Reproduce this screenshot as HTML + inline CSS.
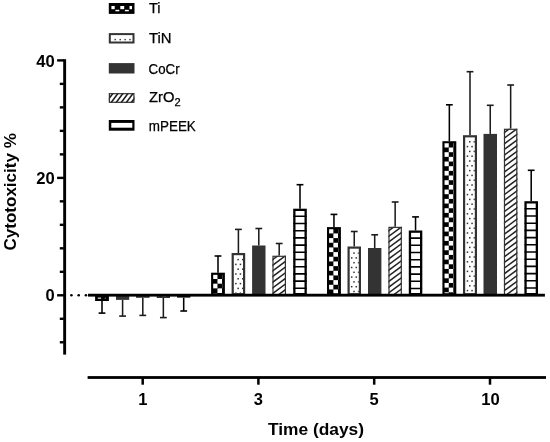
<!DOCTYPE html>
<html lang="en"><head><meta charset="utf-8"><title>Cytotoxicity chart</title>
<style>html,body{margin:0;padding:0;background:#fff}svg{display:block}</style></head>
<body>
<svg width="550" height="442" viewBox="0 0 550 442">
<rect width="550" height="442" fill="#fff"/>
<line x1="102.00" y1="301.00" x2="102.00" y2="313.10" stroke="#000" stroke-width="1.55"/>
<line x1="98.60" y1="313.10" x2="105.40" y2="313.10" stroke="#000" stroke-width="1.6"/>
<clipPath id="c1"><rect x="95.10" y="295.30" width="13.80" height="5.70"/></clipPath>
<rect x="95.10" y="295.30" width="13.80" height="5.70" fill="#000"/>
<rect x="97.80" y="297.60" width="3.3" height="1.1" fill="#fff"/>
<rect x="104.70" y="297.70" width="1.2" height="0.9" fill="#999"/>
<line x1="122.60" y1="299.90" x2="122.60" y2="316.10" stroke="#1c1c1c" stroke-width="1.55"/>
<line x1="119.20" y1="316.10" x2="126.00" y2="316.10" stroke="#1c1c1c" stroke-width="1.6"/>
<clipPath id="c2"><rect x="116.00" y="295.30" width="13.20" height="4.60"/></clipPath>
<rect x="116.00" y="295.30" width="13.20" height="4.60" fill="#333"/>
<line x1="142.80" y1="297.80" x2="142.80" y2="315.40" stroke="#1c1c1c" stroke-width="1.55"/>
<line x1="139.40" y1="315.40" x2="146.20" y2="315.40" stroke="#1c1c1c" stroke-width="1.6"/>
<clipPath id="c3"><rect x="136.00" y="295.30" width="13.60" height="2.50"/></clipPath>
<rect x="136.00" y="295.30" width="13.60" height="2.50" fill="#333"/>
<line x1="163.35" y1="298.00" x2="163.35" y2="317.60" stroke="#1c1c1c" stroke-width="1.55"/>
<line x1="159.95" y1="317.60" x2="166.75" y2="317.60" stroke="#1c1c1c" stroke-width="1.6"/>
<clipPath id="c4"><rect x="156.70" y="295.30" width="13.30" height="2.70"/></clipPath>
<rect x="156.70" y="295.30" width="13.30" height="2.70" fill="#fff"/>
<g clip-path="url(#c4)" stroke="#222" stroke-width="1.5">
<line x1="155.70" y1="294.49" x2="171.00" y2="283.17"/>
<line x1="155.70" y1="300.14" x2="171.00" y2="288.82"/>
<line x1="155.70" y1="305.79" x2="171.00" y2="294.47"/>
<line x1="155.70" y1="311.44" x2="171.00" y2="300.12"/>
<line x1="155.70" y1="317.09" x2="171.00" y2="305.77"/>
</g>
<rect x="157.30" y="295.90" width="12.10" height="1.50" fill="none" stroke="#333" stroke-width="1.2"/>
<line x1="183.70" y1="297.60" x2="183.70" y2="311.00" stroke="#000" stroke-width="1.55"/>
<line x1="180.30" y1="311.00" x2="187.10" y2="311.00" stroke="#000" stroke-width="1.6"/>
<clipPath id="c5"><rect x="177.00" y="295.30" width="13.40" height="2.30"/></clipPath>
<rect x="177.00" y="295.30" width="13.40" height="2.30" fill="#000"/>
<line x1="218.00" y1="272.70" x2="218.00" y2="256.00" stroke="#000" stroke-width="1.55"/>
<line x1="214.60" y1="256.00" x2="221.40" y2="256.00" stroke="#000" stroke-width="1.6"/>
<clipPath id="c6"><rect x="211.10" y="272.70" width="13.80" height="22.60"/></clipPath>
<rect x="211.10" y="272.70" width="13.80" height="22.60" fill="#000"/>
<clipPath id="k6"><rect x="213.20" y="274.80" width="9.05" height="18.40"/></clipPath>
<g clip-path="url(#k6)" fill="#fff">
<rect x="212.80" y="274.35" width="4.67" height="4.67"/>
<rect x="222.14" y="274.35" width="4.67" height="4.67"/>
<rect x="217.47" y="279.02" width="4.67" height="4.67"/>
<rect x="212.80" y="283.69" width="4.67" height="4.67"/>
<rect x="222.14" y="283.69" width="4.67" height="4.67"/>
<rect x="217.47" y="288.36" width="4.67" height="4.67"/>
<rect x="212.80" y="293.03" width="4.67" height="4.67"/>
<rect x="222.14" y="293.03" width="4.67" height="4.67"/>
</g>
<line x1="238.40" y1="253.00" x2="238.40" y2="229.40" stroke="#1c1c1c" stroke-width="1.55"/>
<line x1="235.00" y1="229.40" x2="241.80" y2="229.40" stroke="#1c1c1c" stroke-width="1.6"/>
<clipPath id="c7"><rect x="231.60" y="253.00" width="13.60" height="42.30"/></clipPath>
<rect x="231.60" y="253.00" width="13.60" height="42.30" fill="#333"/>
<rect x="233.80" y="255.20" width="9.20" height="37.90" fill="#fff"/>
<clipPath id="k7"><rect x="233.80" y="255.20" width="9.20" height="37.90"/></clipPath>
<g clip-path="url(#k7)" fill="#333">
<rect x="237.40" y="258.85" width="1.5" height="1.5"/>
<rect x="242.00" y="258.85" width="1.5" height="1.5"/>
<rect x="235.10" y="263.65" width="1.5" height="1.5"/>
<rect x="239.70" y="263.65" width="1.5" height="1.5"/>
<rect x="237.40" y="268.45" width="1.5" height="1.5"/>
<rect x="242.00" y="268.45" width="1.5" height="1.5"/>
<rect x="235.10" y="273.25" width="1.5" height="1.5"/>
<rect x="239.70" y="273.25" width="1.5" height="1.5"/>
<rect x="237.40" y="278.05" width="1.5" height="1.5"/>
<rect x="242.00" y="278.05" width="1.5" height="1.5"/>
<rect x="235.10" y="282.85" width="1.5" height="1.5"/>
<rect x="239.70" y="282.85" width="1.5" height="1.5"/>
<rect x="237.40" y="287.65" width="1.5" height="1.5"/>
<rect x="242.00" y="287.65" width="1.5" height="1.5"/>
<rect x="235.10" y="292.45" width="1.5" height="1.5"/>
<rect x="239.70" y="292.45" width="1.5" height="1.5"/>
</g>
<line x1="258.80" y1="245.50" x2="258.80" y2="228.50" stroke="#1c1c1c" stroke-width="1.55"/>
<line x1="255.40" y1="228.50" x2="262.20" y2="228.50" stroke="#1c1c1c" stroke-width="1.6"/>
<clipPath id="c8"><rect x="252.10" y="245.50" width="13.40" height="49.80"/></clipPath>
<rect x="252.10" y="245.50" width="13.40" height="49.80" fill="#333"/>
<line x1="279.20" y1="255.70" x2="279.20" y2="243.50" stroke="#1c1c1c" stroke-width="1.55"/>
<line x1="275.80" y1="243.50" x2="282.60" y2="243.50" stroke="#1c1c1c" stroke-width="1.6"/>
<clipPath id="c9"><rect x="272.40" y="255.70" width="13.60" height="39.60"/></clipPath>
<rect x="272.40" y="255.70" width="13.60" height="39.60" fill="#fff"/>
<g clip-path="url(#c9)" stroke="#222" stroke-width="1.5">
<line x1="271.40" y1="254.89" x2="287.00" y2="243.35"/>
<line x1="271.40" y1="260.54" x2="287.00" y2="249.00"/>
<line x1="271.40" y1="266.19" x2="287.00" y2="254.65"/>
<line x1="271.40" y1="271.84" x2="287.00" y2="260.30"/>
<line x1="271.40" y1="277.49" x2="287.00" y2="265.95"/>
<line x1="271.40" y1="283.14" x2="287.00" y2="271.60"/>
<line x1="271.40" y1="288.79" x2="287.00" y2="277.25"/>
<line x1="271.40" y1="294.44" x2="287.00" y2="282.90"/>
<line x1="271.40" y1="300.09" x2="287.00" y2="288.55"/>
<line x1="271.40" y1="305.74" x2="287.00" y2="294.20"/>
<line x1="271.40" y1="311.39" x2="287.00" y2="299.85"/>
</g>
<rect x="273.00" y="256.30" width="12.40" height="38.40" fill="none" stroke="#333" stroke-width="1.2"/>
<line x1="300.00" y1="208.70" x2="300.00" y2="184.70" stroke="#000" stroke-width="1.55"/>
<line x1="296.60" y1="184.70" x2="303.40" y2="184.70" stroke="#000" stroke-width="1.6"/>
<clipPath id="c10"><rect x="293.20" y="208.70" width="13.60" height="86.60"/></clipPath>
<rect x="293.20" y="208.70" width="13.60" height="86.60" fill="#000"/>
<rect x="295.50" y="211.00" width="9.00" height="82.00" fill="#fff"/>
<g clip-path="url(#c10)" stroke="#000" stroke-width="1.6">
<line x1="293.20" y1="216.30" x2="306.80" y2="216.30"/>
<line x1="293.20" y1="223.50" x2="306.80" y2="223.50"/>
<line x1="293.20" y1="230.70" x2="306.80" y2="230.70"/>
<line x1="293.20" y1="237.90" x2="306.80" y2="237.90"/>
<line x1="293.20" y1="245.10" x2="306.80" y2="245.10"/>
<line x1="293.20" y1="252.30" x2="306.80" y2="252.30"/>
<line x1="293.20" y1="259.50" x2="306.80" y2="259.50"/>
<line x1="293.20" y1="266.70" x2="306.80" y2="266.70"/>
<line x1="293.20" y1="273.90" x2="306.80" y2="273.90"/>
<line x1="293.20" y1="281.10" x2="306.80" y2="281.10"/>
<line x1="293.20" y1="288.30" x2="306.80" y2="288.30"/>
</g>
<line x1="333.95" y1="227.10" x2="333.95" y2="214.40" stroke="#000" stroke-width="1.55"/>
<line x1="330.55" y1="214.40" x2="337.35" y2="214.40" stroke="#000" stroke-width="1.6"/>
<clipPath id="c11"><rect x="327.00" y="227.10" width="13.90" height="68.20"/></clipPath>
<rect x="327.00" y="227.10" width="13.90" height="68.20" fill="#000"/>
<clipPath id="k11"><rect x="329.10" y="229.20" width="9.15" height="64.00"/></clipPath>
<g clip-path="url(#k11)" fill="#fff">
<rect x="328.70" y="228.75" width="4.67" height="4.67"/>
<rect x="338.04" y="228.75" width="4.67" height="4.67"/>
<rect x="333.37" y="233.42" width="4.67" height="4.67"/>
<rect x="328.70" y="238.09" width="4.67" height="4.67"/>
<rect x="338.04" y="238.09" width="4.67" height="4.67"/>
<rect x="333.37" y="242.76" width="4.67" height="4.67"/>
<rect x="328.70" y="247.43" width="4.67" height="4.67"/>
<rect x="338.04" y="247.43" width="4.67" height="4.67"/>
<rect x="333.37" y="252.10" width="4.67" height="4.67"/>
<rect x="328.70" y="256.77" width="4.67" height="4.67"/>
<rect x="338.04" y="256.77" width="4.67" height="4.67"/>
<rect x="333.37" y="261.44" width="4.67" height="4.67"/>
<rect x="328.70" y="266.11" width="4.67" height="4.67"/>
<rect x="338.04" y="266.11" width="4.67" height="4.67"/>
<rect x="333.37" y="270.78" width="4.67" height="4.67"/>
<rect x="328.70" y="275.45" width="4.67" height="4.67"/>
<rect x="338.04" y="275.45" width="4.67" height="4.67"/>
<rect x="333.37" y="280.12" width="4.67" height="4.67"/>
<rect x="328.70" y="284.79" width="4.67" height="4.67"/>
<rect x="338.04" y="284.79" width="4.67" height="4.67"/>
<rect x="333.37" y="289.46" width="4.67" height="4.67"/>
<rect x="328.70" y="294.13" width="4.67" height="4.67"/>
<rect x="338.04" y="294.13" width="4.67" height="4.67"/>
</g>
<line x1="354.25" y1="246.50" x2="354.25" y2="231.50" stroke="#1c1c1c" stroke-width="1.55"/>
<line x1="350.85" y1="231.50" x2="357.65" y2="231.50" stroke="#1c1c1c" stroke-width="1.6"/>
<clipPath id="c12"><rect x="347.50" y="246.50" width="13.50" height="48.80"/></clipPath>
<rect x="347.50" y="246.50" width="13.50" height="48.80" fill="#333"/>
<rect x="349.70" y="248.70" width="9.10" height="44.40" fill="#fff"/>
<clipPath id="k12"><rect x="349.70" y="248.70" width="9.10" height="44.40"/></clipPath>
<g clip-path="url(#k12)" fill="#333">
<rect x="353.25" y="252.35" width="1.5" height="1.5"/>
<rect x="357.85" y="252.35" width="1.5" height="1.5"/>
<rect x="350.95" y="257.15" width="1.5" height="1.5"/>
<rect x="355.55" y="257.15" width="1.5" height="1.5"/>
<rect x="353.25" y="261.95" width="1.5" height="1.5"/>
<rect x="357.85" y="261.95" width="1.5" height="1.5"/>
<rect x="350.95" y="266.75" width="1.5" height="1.5"/>
<rect x="355.55" y="266.75" width="1.5" height="1.5"/>
<rect x="353.25" y="271.55" width="1.5" height="1.5"/>
<rect x="357.85" y="271.55" width="1.5" height="1.5"/>
<rect x="350.95" y="276.35" width="1.5" height="1.5"/>
<rect x="355.55" y="276.35" width="1.5" height="1.5"/>
<rect x="353.25" y="281.15" width="1.5" height="1.5"/>
<rect x="357.85" y="281.15" width="1.5" height="1.5"/>
<rect x="350.95" y="285.95" width="1.5" height="1.5"/>
<rect x="355.55" y="285.95" width="1.5" height="1.5"/>
<rect x="353.25" y="290.75" width="1.5" height="1.5"/>
<rect x="357.85" y="290.75" width="1.5" height="1.5"/>
</g>
<line x1="374.70" y1="248.00" x2="374.70" y2="234.80" stroke="#1c1c1c" stroke-width="1.55"/>
<line x1="371.30" y1="234.80" x2="378.10" y2="234.80" stroke="#1c1c1c" stroke-width="1.6"/>
<clipPath id="c13"><rect x="368.00" y="248.00" width="13.40" height="47.30"/></clipPath>
<rect x="368.00" y="248.00" width="13.40" height="47.30" fill="#333"/>
<line x1="395.15" y1="226.80" x2="395.15" y2="202.00" stroke="#1c1c1c" stroke-width="1.55"/>
<line x1="391.75" y1="202.00" x2="398.55" y2="202.00" stroke="#1c1c1c" stroke-width="1.6"/>
<clipPath id="c14"><rect x="388.40" y="226.80" width="13.50" height="68.50"/></clipPath>
<rect x="388.40" y="226.80" width="13.50" height="68.50" fill="#fff"/>
<g clip-path="url(#c14)" stroke="#222" stroke-width="1.5">
<line x1="387.40" y1="225.99" x2="402.90" y2="214.52"/>
<line x1="387.40" y1="231.64" x2="402.90" y2="220.17"/>
<line x1="387.40" y1="237.29" x2="402.90" y2="225.82"/>
<line x1="387.40" y1="242.94" x2="402.90" y2="231.47"/>
<line x1="387.40" y1="248.59" x2="402.90" y2="237.12"/>
<line x1="387.40" y1="254.24" x2="402.90" y2="242.77"/>
<line x1="387.40" y1="259.89" x2="402.90" y2="248.42"/>
<line x1="387.40" y1="265.54" x2="402.90" y2="254.07"/>
<line x1="387.40" y1="271.19" x2="402.90" y2="259.72"/>
<line x1="387.40" y1="276.84" x2="402.90" y2="265.37"/>
<line x1="387.40" y1="282.49" x2="402.90" y2="271.02"/>
<line x1="387.40" y1="288.14" x2="402.90" y2="276.67"/>
<line x1="387.40" y1="293.79" x2="402.90" y2="282.32"/>
<line x1="387.40" y1="299.44" x2="402.90" y2="287.97"/>
<line x1="387.40" y1="305.09" x2="402.90" y2="293.62"/>
<line x1="387.40" y1="310.74" x2="402.90" y2="299.27"/>
</g>
<rect x="389.00" y="227.40" width="12.30" height="67.30" fill="none" stroke="#333" stroke-width="1.2"/>
<line x1="415.55" y1="230.50" x2="415.55" y2="216.90" stroke="#000" stroke-width="1.55"/>
<line x1="412.15" y1="216.90" x2="418.95" y2="216.90" stroke="#000" stroke-width="1.6"/>
<clipPath id="c15"><rect x="408.80" y="230.50" width="13.50" height="64.80"/></clipPath>
<rect x="408.80" y="230.50" width="13.50" height="64.80" fill="#000"/>
<rect x="411.10" y="232.80" width="8.90" height="60.20" fill="#fff"/>
<g clip-path="url(#c15)" stroke="#000" stroke-width="1.6">
<line x1="408.80" y1="238.10" x2="422.30" y2="238.10"/>
<line x1="408.80" y1="245.30" x2="422.30" y2="245.30"/>
<line x1="408.80" y1="252.50" x2="422.30" y2="252.50"/>
<line x1="408.80" y1="259.70" x2="422.30" y2="259.70"/>
<line x1="408.80" y1="266.90" x2="422.30" y2="266.90"/>
<line x1="408.80" y1="274.10" x2="422.30" y2="274.10"/>
<line x1="408.80" y1="281.30" x2="422.30" y2="281.30"/>
<line x1="408.80" y1="288.50" x2="422.30" y2="288.50"/>
</g>
<line x1="449.35" y1="141.20" x2="449.35" y2="104.80" stroke="#000" stroke-width="1.55"/>
<line x1="445.95" y1="104.80" x2="452.75" y2="104.80" stroke="#000" stroke-width="1.6"/>
<clipPath id="c16"><rect x="442.40" y="141.20" width="13.90" height="154.10"/></clipPath>
<rect x="442.40" y="141.20" width="13.90" height="154.10" fill="#000"/>
<clipPath id="k16"><rect x="444.50" y="143.30" width="9.15" height="149.90"/></clipPath>
<g clip-path="url(#k16)" fill="#fff">
<rect x="444.10" y="142.85" width="4.67" height="4.67"/>
<rect x="453.44" y="142.85" width="4.67" height="4.67"/>
<rect x="448.77" y="147.52" width="4.67" height="4.67"/>
<rect x="444.10" y="152.19" width="4.67" height="4.67"/>
<rect x="453.44" y="152.19" width="4.67" height="4.67"/>
<rect x="448.77" y="156.86" width="4.67" height="4.67"/>
<rect x="444.10" y="161.53" width="4.67" height="4.67"/>
<rect x="453.44" y="161.53" width="4.67" height="4.67"/>
<rect x="448.77" y="166.20" width="4.67" height="4.67"/>
<rect x="444.10" y="170.87" width="4.67" height="4.67"/>
<rect x="453.44" y="170.87" width="4.67" height="4.67"/>
<rect x="448.77" y="175.54" width="4.67" height="4.67"/>
<rect x="444.10" y="180.21" width="4.67" height="4.67"/>
<rect x="453.44" y="180.21" width="4.67" height="4.67"/>
<rect x="448.77" y="184.88" width="4.67" height="4.67"/>
<rect x="444.10" y="189.55" width="4.67" height="4.67"/>
<rect x="453.44" y="189.55" width="4.67" height="4.67"/>
<rect x="448.77" y="194.22" width="4.67" height="4.67"/>
<rect x="444.10" y="198.89" width="4.67" height="4.67"/>
<rect x="453.44" y="198.89" width="4.67" height="4.67"/>
<rect x="448.77" y="203.56" width="4.67" height="4.67"/>
<rect x="444.10" y="208.23" width="4.67" height="4.67"/>
<rect x="453.44" y="208.23" width="4.67" height="4.67"/>
<rect x="448.77" y="212.90" width="4.67" height="4.67"/>
<rect x="444.10" y="217.57" width="4.67" height="4.67"/>
<rect x="453.44" y="217.57" width="4.67" height="4.67"/>
<rect x="448.77" y="222.24" width="4.67" height="4.67"/>
<rect x="444.10" y="226.91" width="4.67" height="4.67"/>
<rect x="453.44" y="226.91" width="4.67" height="4.67"/>
<rect x="448.77" y="231.58" width="4.67" height="4.67"/>
<rect x="444.10" y="236.25" width="4.67" height="4.67"/>
<rect x="453.44" y="236.25" width="4.67" height="4.67"/>
<rect x="448.77" y="240.92" width="4.67" height="4.67"/>
<rect x="444.10" y="245.59" width="4.67" height="4.67"/>
<rect x="453.44" y="245.59" width="4.67" height="4.67"/>
<rect x="448.77" y="250.26" width="4.67" height="4.67"/>
<rect x="444.10" y="254.93" width="4.67" height="4.67"/>
<rect x="453.44" y="254.93" width="4.67" height="4.67"/>
<rect x="448.77" y="259.60" width="4.67" height="4.67"/>
<rect x="444.10" y="264.27" width="4.67" height="4.67"/>
<rect x="453.44" y="264.27" width="4.67" height="4.67"/>
<rect x="448.77" y="268.94" width="4.67" height="4.67"/>
<rect x="444.10" y="273.61" width="4.67" height="4.67"/>
<rect x="453.44" y="273.61" width="4.67" height="4.67"/>
<rect x="448.77" y="278.28" width="4.67" height="4.67"/>
<rect x="444.10" y="282.95" width="4.67" height="4.67"/>
<rect x="453.44" y="282.95" width="4.67" height="4.67"/>
<rect x="448.77" y="287.62" width="4.67" height="4.67"/>
<rect x="444.10" y="292.29" width="4.67" height="4.67"/>
<rect x="453.44" y="292.29" width="4.67" height="4.67"/>
</g>
<line x1="470.00" y1="135.20" x2="470.00" y2="71.70" stroke="#1c1c1c" stroke-width="1.55"/>
<line x1="466.60" y1="71.70" x2="473.40" y2="71.70" stroke="#1c1c1c" stroke-width="1.6"/>
<clipPath id="c17"><rect x="463.00" y="135.20" width="14.00" height="160.10"/></clipPath>
<rect x="463.00" y="135.20" width="14.00" height="160.10" fill="#333"/>
<rect x="465.20" y="137.40" width="9.60" height="155.70" fill="#fff"/>
<clipPath id="k17"><rect x="465.20" y="137.40" width="9.60" height="155.70"/></clipPath>
<g clip-path="url(#k17)" fill="#333">
<rect x="469.00" y="141.05" width="1.5" height="1.5"/>
<rect x="473.60" y="141.05" width="1.5" height="1.5"/>
<rect x="466.70" y="145.85" width="1.5" height="1.5"/>
<rect x="471.30" y="145.85" width="1.5" height="1.5"/>
<rect x="469.00" y="150.65" width="1.5" height="1.5"/>
<rect x="473.60" y="150.65" width="1.5" height="1.5"/>
<rect x="466.70" y="155.45" width="1.5" height="1.5"/>
<rect x="471.30" y="155.45" width="1.5" height="1.5"/>
<rect x="469.00" y="160.25" width="1.5" height="1.5"/>
<rect x="473.60" y="160.25" width="1.5" height="1.5"/>
<rect x="466.70" y="165.05" width="1.5" height="1.5"/>
<rect x="471.30" y="165.05" width="1.5" height="1.5"/>
<rect x="469.00" y="169.85" width="1.5" height="1.5"/>
<rect x="473.60" y="169.85" width="1.5" height="1.5"/>
<rect x="466.70" y="174.65" width="1.5" height="1.5"/>
<rect x="471.30" y="174.65" width="1.5" height="1.5"/>
<rect x="469.00" y="179.45" width="1.5" height="1.5"/>
<rect x="473.60" y="179.45" width="1.5" height="1.5"/>
<rect x="466.70" y="184.25" width="1.5" height="1.5"/>
<rect x="471.30" y="184.25" width="1.5" height="1.5"/>
<rect x="469.00" y="189.05" width="1.5" height="1.5"/>
<rect x="473.60" y="189.05" width="1.5" height="1.5"/>
<rect x="466.70" y="193.85" width="1.5" height="1.5"/>
<rect x="471.30" y="193.85" width="1.5" height="1.5"/>
<rect x="469.00" y="198.65" width="1.5" height="1.5"/>
<rect x="473.60" y="198.65" width="1.5" height="1.5"/>
<rect x="466.70" y="203.45" width="1.5" height="1.5"/>
<rect x="471.30" y="203.45" width="1.5" height="1.5"/>
<rect x="469.00" y="208.25" width="1.5" height="1.5"/>
<rect x="473.60" y="208.25" width="1.5" height="1.5"/>
<rect x="466.70" y="213.05" width="1.5" height="1.5"/>
<rect x="471.30" y="213.05" width="1.5" height="1.5"/>
<rect x="469.00" y="217.85" width="1.5" height="1.5"/>
<rect x="473.60" y="217.85" width="1.5" height="1.5"/>
<rect x="466.70" y="222.65" width="1.5" height="1.5"/>
<rect x="471.30" y="222.65" width="1.5" height="1.5"/>
<rect x="469.00" y="227.45" width="1.5" height="1.5"/>
<rect x="473.60" y="227.45" width="1.5" height="1.5"/>
<rect x="466.70" y="232.25" width="1.5" height="1.5"/>
<rect x="471.30" y="232.25" width="1.5" height="1.5"/>
<rect x="469.00" y="237.05" width="1.5" height="1.5"/>
<rect x="473.60" y="237.05" width="1.5" height="1.5"/>
<rect x="466.70" y="241.85" width="1.5" height="1.5"/>
<rect x="471.30" y="241.85" width="1.5" height="1.5"/>
<rect x="469.00" y="246.65" width="1.5" height="1.5"/>
<rect x="473.60" y="246.65" width="1.5" height="1.5"/>
<rect x="466.70" y="251.45" width="1.5" height="1.5"/>
<rect x="471.30" y="251.45" width="1.5" height="1.5"/>
<rect x="469.00" y="256.25" width="1.5" height="1.5"/>
<rect x="473.60" y="256.25" width="1.5" height="1.5"/>
<rect x="466.70" y="261.05" width="1.5" height="1.5"/>
<rect x="471.30" y="261.05" width="1.5" height="1.5"/>
<rect x="469.00" y="265.85" width="1.5" height="1.5"/>
<rect x="473.60" y="265.85" width="1.5" height="1.5"/>
<rect x="466.70" y="270.65" width="1.5" height="1.5"/>
<rect x="471.30" y="270.65" width="1.5" height="1.5"/>
<rect x="469.00" y="275.45" width="1.5" height="1.5"/>
<rect x="473.60" y="275.45" width="1.5" height="1.5"/>
<rect x="466.70" y="280.25" width="1.5" height="1.5"/>
<rect x="471.30" y="280.25" width="1.5" height="1.5"/>
<rect x="469.00" y="285.05" width="1.5" height="1.5"/>
<rect x="473.60" y="285.05" width="1.5" height="1.5"/>
<rect x="466.70" y="289.85" width="1.5" height="1.5"/>
<rect x="471.30" y="289.85" width="1.5" height="1.5"/>
</g>
<line x1="490.25" y1="133.90" x2="490.25" y2="105.30" stroke="#1c1c1c" stroke-width="1.55"/>
<line x1="486.85" y1="105.30" x2="493.65" y2="105.30" stroke="#1c1c1c" stroke-width="1.6"/>
<clipPath id="c18"><rect x="483.50" y="133.90" width="13.50" height="161.40"/></clipPath>
<rect x="483.50" y="133.90" width="13.50" height="161.40" fill="#333"/>
<line x1="510.65" y1="128.70" x2="510.65" y2="85.00" stroke="#1c1c1c" stroke-width="1.55"/>
<line x1="507.25" y1="85.00" x2="514.05" y2="85.00" stroke="#1c1c1c" stroke-width="1.6"/>
<clipPath id="c19"><rect x="503.90" y="128.70" width="13.50" height="166.60"/></clipPath>
<rect x="503.90" y="128.70" width="13.50" height="166.60" fill="#fff"/>
<g clip-path="url(#c19)" stroke="#222" stroke-width="1.5">
<line x1="502.90" y1="127.89" x2="518.40" y2="116.42"/>
<line x1="502.90" y1="133.54" x2="518.40" y2="122.07"/>
<line x1="502.90" y1="139.19" x2="518.40" y2="127.72"/>
<line x1="502.90" y1="144.84" x2="518.40" y2="133.37"/>
<line x1="502.90" y1="150.49" x2="518.40" y2="139.02"/>
<line x1="502.90" y1="156.14" x2="518.40" y2="144.67"/>
<line x1="502.90" y1="161.79" x2="518.40" y2="150.32"/>
<line x1="502.90" y1="167.44" x2="518.40" y2="155.97"/>
<line x1="502.90" y1="173.09" x2="518.40" y2="161.62"/>
<line x1="502.90" y1="178.74" x2="518.40" y2="167.27"/>
<line x1="502.90" y1="184.39" x2="518.40" y2="172.92"/>
<line x1="502.90" y1="190.04" x2="518.40" y2="178.57"/>
<line x1="502.90" y1="195.69" x2="518.40" y2="184.22"/>
<line x1="502.90" y1="201.34" x2="518.40" y2="189.87"/>
<line x1="502.90" y1="206.99" x2="518.40" y2="195.52"/>
<line x1="502.90" y1="212.64" x2="518.40" y2="201.17"/>
<line x1="502.90" y1="218.29" x2="518.40" y2="206.82"/>
<line x1="502.90" y1="223.94" x2="518.40" y2="212.47"/>
<line x1="502.90" y1="229.59" x2="518.40" y2="218.12"/>
<line x1="502.90" y1="235.24" x2="518.40" y2="223.77"/>
<line x1="502.90" y1="240.89" x2="518.40" y2="229.42"/>
<line x1="502.90" y1="246.54" x2="518.40" y2="235.07"/>
<line x1="502.90" y1="252.19" x2="518.40" y2="240.72"/>
<line x1="502.90" y1="257.84" x2="518.40" y2="246.37"/>
<line x1="502.90" y1="263.49" x2="518.40" y2="252.02"/>
<line x1="502.90" y1="269.14" x2="518.40" y2="257.67"/>
<line x1="502.90" y1="274.79" x2="518.40" y2="263.32"/>
<line x1="502.90" y1="280.44" x2="518.40" y2="268.97"/>
<line x1="502.90" y1="286.09" x2="518.40" y2="274.62"/>
<line x1="502.90" y1="291.74" x2="518.40" y2="280.27"/>
<line x1="502.90" y1="297.39" x2="518.40" y2="285.92"/>
<line x1="502.90" y1="303.04" x2="518.40" y2="291.57"/>
<line x1="502.90" y1="308.69" x2="518.40" y2="297.22"/>
<line x1="502.90" y1="314.34" x2="518.40" y2="302.87"/>
</g>
<rect x="504.50" y="129.30" width="12.30" height="165.40" fill="none" stroke="#333" stroke-width="1.2"/>
<line x1="531.20" y1="201.20" x2="531.20" y2="170.30" stroke="#000" stroke-width="1.55"/>
<line x1="527.80" y1="170.30" x2="534.60" y2="170.30" stroke="#000" stroke-width="1.6"/>
<clipPath id="c20"><rect x="524.40" y="201.20" width="13.60" height="94.10"/></clipPath>
<rect x="524.40" y="201.20" width="13.60" height="94.10" fill="#000"/>
<rect x="526.70" y="203.50" width="9.00" height="89.50" fill="#fff"/>
<g clip-path="url(#c20)" stroke="#000" stroke-width="1.6">
<line x1="524.40" y1="208.80" x2="538.00" y2="208.80"/>
<line x1="524.40" y1="216.00" x2="538.00" y2="216.00"/>
<line x1="524.40" y1="223.20" x2="538.00" y2="223.20"/>
<line x1="524.40" y1="230.40" x2="538.00" y2="230.40"/>
<line x1="524.40" y1="237.60" x2="538.00" y2="237.60"/>
<line x1="524.40" y1="244.80" x2="538.00" y2="244.80"/>
<line x1="524.40" y1="252.00" x2="538.00" y2="252.00"/>
<line x1="524.40" y1="259.20" x2="538.00" y2="259.20"/>
<line x1="524.40" y1="266.40" x2="538.00" y2="266.40"/>
<line x1="524.40" y1="273.60" x2="538.00" y2="273.60"/>
<line x1="524.40" y1="280.80" x2="538.00" y2="280.80"/>
<line x1="524.40" y1="288.00" x2="538.00" y2="288.00"/>
<line x1="524.40" y1="295.20" x2="538.00" y2="295.20"/>
</g>
<rect x="88.0" y="293.75" width="456.9" height="2.85" fill="#000"/>
<circle cx="71.4" cy="295.2" r="1.3" fill="#000"/>
<circle cx="78.7" cy="295.2" r="1.3" fill="#000"/>
<circle cx="85.9" cy="295.2" r="1.3" fill="#000"/>
<rect x="63.2" y="59.2" width="2.9" height="295.4" fill="#000"/>
<rect x="57.1" y="59.20" width="7" height="2.4" fill="#000"/>
<rect x="57.1" y="176.70" width="7" height="2.4" fill="#000"/>
<rect x="57.1" y="294.10" width="7" height="2.4" fill="#000"/>
<rect x="59.8" y="82.69" width="4" height="2.4" fill="#000"/>
<rect x="59.8" y="106.18" width="4" height="2.4" fill="#000"/>
<rect x="59.8" y="129.67" width="4" height="2.4" fill="#000"/>
<rect x="59.8" y="153.16" width="4" height="2.4" fill="#000"/>
<rect x="59.8" y="200.14" width="4" height="2.4" fill="#000"/>
<rect x="59.8" y="223.63" width="4" height="2.4" fill="#000"/>
<rect x="59.8" y="247.12" width="4" height="2.4" fill="#000"/>
<rect x="59.8" y="270.61" width="4" height="2.4" fill="#000"/>
<rect x="59.8" y="317.59" width="4" height="2.4" fill="#000"/>
<rect x="59.8" y="341.08" width="4" height="2.4" fill="#000"/>
<rect x="87.6" y="376.1" width="458.4" height="2.8" fill="#000"/>
<rect x="141.45" y="377" width="2.5" height="7.7" fill="#000"/>
<rect x="257.15" y="377" width="2.5" height="7.7" fill="#000"/>
<rect x="372.95" y="377" width="2.5" height="7.7" fill="#000"/>
<rect x="488.75" y="377" width="2.5" height="7.7" fill="#000"/>
<g font-family="Liberation Sans, Arial, sans-serif" font-weight="bold" font-size="15.6" fill="#000">
<text x="36.3" y="66.6" textLength="18.5" lengthAdjust="spacingAndGlyphs">40</text>
<text x="36.3" y="184.4" textLength="18.5" lengthAdjust="spacingAndGlyphs">20</text>
<text x="45.4" y="301.4" textLength="9.2" lengthAdjust="spacingAndGlyphs">0</text>
<text x="138.30" y="404.7" textLength="9.2" lengthAdjust="spacingAndGlyphs">1</text>
<text x="253.80" y="404.7" textLength="9.2" lengthAdjust="spacingAndGlyphs">3</text>
<text x="369.60" y="404.7" textLength="9.2" lengthAdjust="spacingAndGlyphs">5</text>
<text x="481.15" y="404.7" textLength="18.5" lengthAdjust="spacingAndGlyphs">10</text>
<text x="268" y="435.1" font-size="15.6" textLength="96" lengthAdjust="spacingAndGlyphs">Time (days)</text>
<text transform="translate(16.2,250.6) rotate(-90)" font-size="15.8" textLength="117.5" lengthAdjust="spacingAndGlyphs">Cytotoxicity %</text>
</g>
<g font-family="Liberation Sans, Arial, sans-serif" font-size="14" fill="#000" stroke="#000" stroke-width="0.25">
<text x="149" y="13.4" textLength="11.6" lengthAdjust="spacingAndGlyphs">Ti</text>
<text x="149" y="43.4" textLength="22.6" lengthAdjust="spacingAndGlyphs">TiN</text>
<text x="148.6" y="73.7" textLength="31" lengthAdjust="spacingAndGlyphs">CoCr</text>
<text x="149" y="102.2" textLength="31.6" lengthAdjust="spacingAndGlyphs">ZrO<tspan font-size="10.5" dy="3.9">2</tspan></text>
<text x="148.8" y="130.5" textLength="47" lengthAdjust="spacingAndGlyphs">mPEEK</text>
</g>
<rect x="108.8" y="3" width="25.7" height="10.9" fill="#000"/>
<rect x="111.4" y="6.0" width="3.30" height="3.2" fill="#fff"/>
<rect x="120.3" y="6.0" width="3.90" height="3.2" fill="#fff"/>
<rect x="129.5" y="6.0" width="2.50" height="3.2" fill="#fff"/>
<rect x="115.4" y="9.8" width="3.90" height="1.5" fill="#fff"/>
<rect x="124.9" y="9.8" width="3.90" height="1.5" fill="#fff"/>
<rect x="108.8" y="33.1" width="25.7" height="10.4" fill="#333"/>
<rect x="110.8" y="35.1" width="21.7" height="6.4" fill="#fff"/>
<rect x="114.50" y="38.9" width="1.4" height="1.4" fill="#333"/>
<rect x="119.50" y="38.9" width="1.4" height="1.4" fill="#333"/>
<rect x="124.40" y="38.9" width="1.4" height="1.4" fill="#333"/>
<rect x="129.30" y="38.9" width="1.4" height="1.4" fill="#333"/>
<rect x="108.8" y="63.1" width="25.7" height="10.4" fill="#333"/>
<clipPath id="lz"><rect x="108.8" y="93.1" width="25.7" height="9.8"/></clipPath>
<g clip-path="url(#lz)" stroke="#1a1a1a" stroke-width="1.55">
<line x1="95.15" y1="103.6" x2="103.70" y2="92.2"/>
<line x1="100.20" y1="103.6" x2="108.75" y2="92.2"/>
<line x1="105.25" y1="103.6" x2="113.80" y2="92.2"/>
<line x1="110.30" y1="103.6" x2="118.85" y2="92.2"/>
<line x1="115.35" y1="103.6" x2="123.90" y2="92.2"/>
<line x1="120.40" y1="103.6" x2="128.95" y2="92.2"/>
<line x1="125.45" y1="103.6" x2="134.00" y2="92.2"/>
<line x1="130.50" y1="103.6" x2="139.05" y2="92.2"/>
<line x1="135.55" y1="103.6" x2="144.10" y2="92.2"/>
</g>
<rect x="109.39999999999999" y="93.7" width="24.5" height="8.6" fill="none" stroke="#333" stroke-width="1.2"/>
<rect x="108.8" y="120.0" width="25.7" height="10.7" fill="#000"/>
<rect x="111.3" y="122.9" width="21.0" height="4.8" fill="#fff"/>
</svg>
</body></html>
